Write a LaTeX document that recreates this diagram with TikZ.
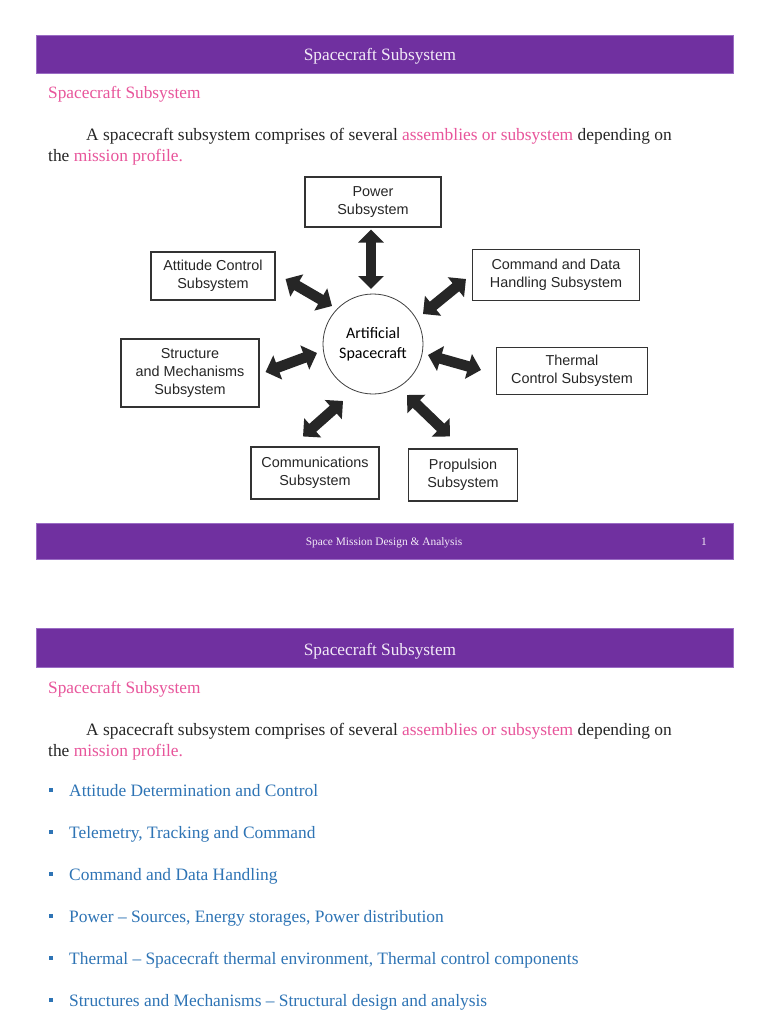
\documentclass[tikz,border=0pt]{standalone}
\usepackage{fontspec}
\setmainfont{Liberation Serif}
\newfontfamily\boxfont{Liberation Sans}
\newfontfamily\circfont{Carlito}
\usetikzlibrary{arrows.meta,calc}
\definecolor{barpurple}{HTML}{7030A0}
\definecolor{baredge}{HTML}{9A6CC4}
\definecolor{pinktxt}{HTML}{E8559B}
\definecolor{bluetxt}{HTML}{2E74B5}
\definecolor{bartxt}{HTML}{F2EAF7}
\definecolor{boxline}{HTML}{333333}
\definecolor{arrowcol}{HTML}{262626}
\definecolor{bodytxt}{HTML}{262626}
\begin{document}
\begin{tikzpicture}[x=1pt,y=-1pt,
  bar/.style={fill=barpurple, draw=baredge, line width=0.8pt},
  bartitle/.style={text=bartxt, font=\fontsize{17.3}{19}\selectfont, inner sep=0, anchor=base},
  foottxt/.style={text=bartxt, font=\fontsize{11.4}{13}\selectfont, inner sep=0, anchor=base},
  pinkhead/.style={text=pinktxt, font=\fontsize{17.3}{19}\selectfont, inner sep=0, anchor=base west},
  para/.style={text=bodytxt, font=\fontsize{17.4}{19}\selectfont, inner sep=0, anchor=base west},
  sub/.style={draw=boxline, line width=1.1pt, align=center, text=black!85,
    font=\boxfont\fontsize{14.4}{17.8}\selectfont, inner sep=0},
  hub/.style={circle, draw=black!75, line width=0.8pt, minimum size=100pt, inner sep=0,
    align=center, font=\circfont\fontsize{16}{20}\selectfont},
  bigarrow/.style={draw=arrowcol, line width=10.5pt,
    {Triangle[width=25pt,length=13pt]}-{Triangle[width=25pt,length=13pt]}},
  bullet/.style={fill=bluetxt, minimum size=4.5pt, inner sep=0},
  item/.style={text=bluetxt, font=\fontsize{17.4}{19}\selectfont, inner sep=0, anchor=base west}
]
\useasboundingbox (0,0) rectangle (768,1024);
\fill[white] (0,0) rectangle (768,1024);

% ---------- slide 1 ----------
\draw[bar] (36,35) rectangle (733,73);
\node[bartitle] (t1) at (380,61) {Spacecraft Subsystem};
\node[pinkhead] (h1) at (48,99) {Spacecraft Subsystem};
\node[para] (p1a) at (86,141) {A spacecraft subsystem comprises of several \textcolor{pinktxt}{assemblies or subsystem} depending on};
\node[para] (p1b) at (48,162) {the \textcolor{pinktxt}{mission profile.}};

% diagram
\node[hub] (circ) at (373,344) {Artificial\\Spacecraft};
\node[sub, minimum width=136pt, minimum height=50pt] (power) at (373,202) {Power\\Subsystem};
\node[sub, minimum width=124pt, minimum height=48pt] (att) at (213,276) {Attitude Control\\Subsystem};
\node[sub, minimum width=167pt, minimum height=51pt] (cmd) at (556,275) {Command and Data\\Handling Subsystem};
\node[sub, minimum width=138pt, minimum height=68pt] (struct) at (190,373) {Structure\\and Mechanisms\\Subsystem};
\node[sub, minimum width=151pt, minimum height=47pt] (therm) at (572,371) {Thermal\\Control Subsystem};
\node[sub, minimum width=128pt, minimum height=52pt] (comm) at (315,473) {Communications\\Subsystem};
\node[sub, minimum width=109pt, minimum height=52pt] (prop) at (463,475) {Propulsion\\Subsystem};

\draw[bigarrow] ([shift={(-2,2)}]power.south) -- ([shift={(-2,-55)}]circ.center);
\draw[bigarrow] ([shift={(10,3)}]att.east) -- ([shift={(-41,-38)}]circ.center);
\draw[bigarrow] ([shift={(-6,4)}]cmd.west) -- ([shift={(50,-30)}]circ.center);
\draw[bigarrow] ([shift={(6,-1)}]struct.east) -- ([shift={(-56,9)}]circ.center);
\draw[bigarrow] ([shift={(-15,-1)}]therm.west) -- ([shift={(55,11)}]circ.center);
\draw[bigarrow] ([shift={(-12,-10)}]comm.north) -- ([shift={(-30,57)}]circ.center);
\draw[bigarrow] ([shift={(-13,-12)}]prop.north) -- ([shift={(34,51)}]circ.center);

\draw[bar] (36,523) rectangle (733,559);
\node[foottxt] (f1) at (384,545) {Space Mission Design \& Analysis};
\node[foottxt] (n1) at (704,545) {1};

% ---------- slide 2 ----------
\draw[bar] (36,628) rectangle (733,667);
\node[bartitle] (t2) at (380,655) {Spacecraft Subsystem};
\node[pinkhead] (h2) at (48,693) {Spacecraft Subsystem};
\node[para] (p2a) at (86,735) {A spacecraft subsystem comprises of several \textcolor{pinktxt}{assemblies or subsystem} depending on};
\node[para] (p2b) at (48,756) {the \textcolor{pinktxt}{mission profile.}};

\node[bullet] (b1) at (51,790) {};
\node[item] (i1) at (69,796) {Attitude Determination and Control};
\node[bullet] (b2) at (51,832) {};
\node[item] (i2) at (69,838) {Telemetry, Tracking and Command};
\node[bullet] (b3) at (51,874) {};
\node[item] (i3) at (69,880) {Command and Data Handling};
\node[bullet] (b4) at (51,916) {};
\node[item] (i4) at (69,922) {Power -- Sources, Energy storages, Power distribution};
\node[bullet] (b5) at (51,958) {};
\node[item] (i5) at (69,964) {Thermal -- Spacecraft thermal environment, Thermal control components};
\node[bullet] (b6) at (51,1000) {};
\node[item] (i6) at (69,1006) {Structures and Mechanisms -- Structural design and analysis};
\end{tikzpicture}
\end{document}
